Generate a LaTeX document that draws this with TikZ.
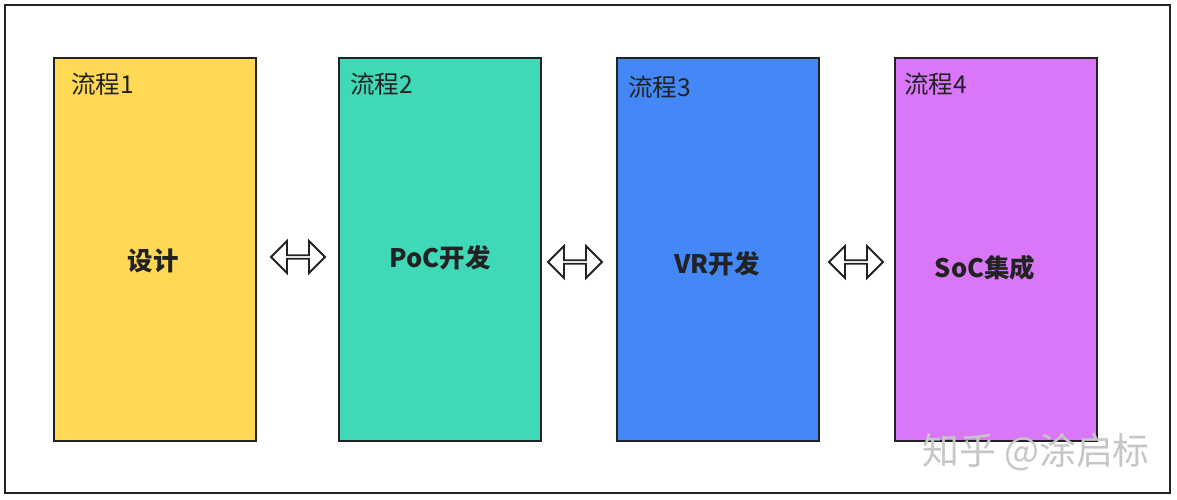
\documentclass[tikz,border=0pt]{standalone}
\usepackage{fontspec}
\setmainfont{Noto Sans CJK SC}
\usetikzlibrary{shapes.arrows}
\definecolor{cy}{HTML}{FFD954}
\definecolor{cg}{HTML}{40D9B8}
\definecolor{cb}{HTML}{4488F7}
\definecolor{cp}{HTML}{DA77F9}
\definecolor{ln}{HTML}{222222}
\begin{document}
\begin{tikzpicture}[x=0.02cm,y=-0.02cm,
  stage/.style={draw=ln,line width=1.3pt,minimum width=202*0.02cm,minimum height=383*0.02cm,inner sep=0,anchor=north west},
  tag/.style={anchor=west,font=\fontsize{14}{14}\selectfont,text=ln},
  title/.style={font=\fontsize{14.5}{15}\selectfont\bfseries,text=ln},
  darr/.style={double arrow,draw=ln,line width=1.1pt,fill=white,minimum height=54*0.02cm,minimum width=32*0.02cm,double arrow head extend=8*0.02cm,inner sep=0pt,text height=0pt,text depth=0pt,text width=0pt}]
\useasboundingbox (0,0) rectangle (1177,500);
\draw[ln,line width=1.3pt] (5,5) rectangle (1170,493);
\node[stage,fill=cy] (s1) at (53,57) {};
\node[stage,fill=cg] (s2) at (338,57) {};
\node[stage,fill=cb] (s3) at (616,57) {};
\node[stage,fill=cp] (s4) at (894,57) {};
\node[tag] (t1) at (65,84) {流程1};
\node[tag] (t2) at (344,84) {流程2};
\node[tag] (t3) at (622,87) {流程3};
\node[tag] (t4) at (898,84) {流程4};
\node[title] (c1) at (153,261) {设计};
\node[title] (c2) at (440,258) {PoC开发};
\node[title] (c3) at (717,264) {VR开发};
\node[title] (c4) at (985,268) {SoC集成};
\node[darr] (a1) at (298,257) {};
\node[darr] (a2) at (575,262) {};
\node[darr] (a3) at (856,262) {};
\node[font=\fontsize{21}{21}\selectfont,text=gray!45] (wm) at (1036,452) {知乎 @涂启标};
\end{tikzpicture}
\end{document}
